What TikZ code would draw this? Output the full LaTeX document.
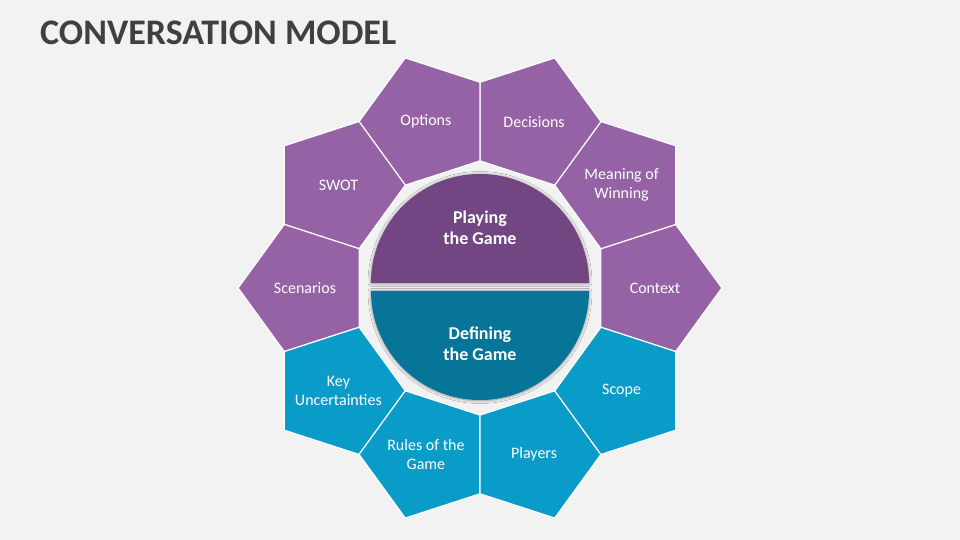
\documentclass[tikz,border=0pt]{standalone}
\usepackage{fontspec}
\setmainfont{Carlito}
\usetikzlibrary{shadows.blur}
\definecolor{petalpurple}{HTML}{9662A6}
\definecolor{petalblue}{HTML}{0A9CC8}
\definecolor{playpurple}{HTML}{714683}
\definecolor{defineblue}{HTML}{077597}
\definecolor{titlegray}{HTML}{404040}
\definecolor{bggray}{HTML}{F2F2F2}
\tikzset{
  petal/.style={fill=#1, draw=white, line width=1.2pt, line join=miter},
  petallabel/.style={text=white, font=\fontsize{16}{19}\selectfont, align=center},
  hublabel/.style={text=white, font=\bfseries\fontsize{18}{21}\selectfont, align=center},
  halfdisc/.style={fill=#1, blur shadow={shadow xshift=0pt, shadow yshift=-0.5pt,
      shadow blur radius=3pt, shadow opacity=45}},
}
\begin{document}
\begin{tikzpicture}[x=1pt,y=1pt]
  % Background and page size
  \fill[bggray] (0,0) rectangle (960,540);
  \useasboundingbox (0,0) rectangle (960,540);
  % Title
  \node[anchor=base west, inner sep=0pt, text=titlegray,
        font=\bfseries\fontsize{36}{40}\selectfont] (title) at (40,495) {CONVERSATION MODEL};
  \coordinate (hub) at (480,252);
  \begin{scope}[shift={(hub)}]
    % Ring of ten pentagons round a decagon (side 78.6)
    \foreach \ang/\col/\nm/\txt in {
        0/petalpurple/context/Context,
        36/petalpurple/winning/{Meaning of\\Winning},
        72/petalpurple/decisions/Decisions,
        108/petalpurple/options/Options,
        144/petalpurple/swot/SWOT,
        180/petalpurple/scenarios/Scenarios,
        216/petalblue/uncert/{Key\\Uncertainties},
        252/petalblue/rules/{Rules of the\\Game},
        288/petalblue/players/Players,
        324/petalblue/scope/Scope}{
      \draw[petal=\col, shift={(\ang:175)}]
        (\ang:66.9) -- (\ang+72:66.9) -- (\ang+144:66.9) -- (\ang+216:66.9) -- (\ang+288:66.9) -- cycle;
      \node[petallabel] (\nm) at (\ang:175) {\txt};
    }
    % Centre: two half discs
    \path[halfdisc=playpurple] (109,5) arc[start angle=0, end angle=180, radius=109] -- cycle;
    \path[halfdisc=defineblue] (-109,-3) arc[start angle=180, end angle=360, radius=109] -- cycle;
    \node[hublabel] (playing) at (0,60) {Playing\\the Game};
    \node[hublabel] (defining) at (0,-56) {Defining\\the Game};
  \end{scope}
\end{tikzpicture}
\end{document}
